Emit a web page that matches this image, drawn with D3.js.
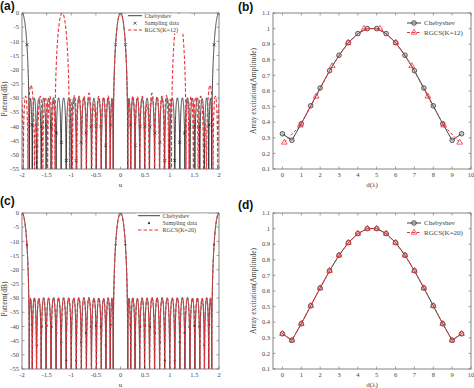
<!DOCTYPE html>
<html>
<head>
<meta charset="utf-8">
<script src="https://d3js.org/d3.v7.min.js"></script>
<style>
  body { margin: 0; background: #fff; }
  svg { display: block; }
  text { font-family: "Liberation Serif", "DejaVu Serif", serif; fill: #444; }
  .plab { font-family: "Liberation Sans", Arial, sans-serif; font-weight: bold; fill: #111; }
</style>
</head>
<body>
<svg id="svg" width="474" height="388"></svg>
<script>
// Chebyshev excitation (20 elements) (b)/(d)
const chebPos = [0, 0.5, 1, 1.5, 2, 2.5, 3, 3.5, 4, 4.5, 5, 5.5, 6, 6.5, 7, 7.5, 8, 8.5, 9, 9.5]
const chebAmp = [0.326, 0.284, 0.390, 0.505, 0.619, 0.730, 0.829, 0.910, 0.968, 1.0,
                 1.0, 0.968, 0.910, 0.829, 0.730, 0.619, 0.505, 0.390, 0.284, 0.326]

// RGCS(K=12) excitation
const rgcs12Pos = [0.10, 0.95, 1.79, 2.64, 3.48, 4.33, 5.17, 6.02, 6.86, 7.71, 8.55, 9.40]
const rgcs12Amp = [0.27, 0.38, 0.565, 0.76, 0.91, 1.0, 1.0, 0.91, 0.76, 0.565, 0.38, 0.27]

// RGCS(K=20) excitation
const rgcs20Pos = chebPos
const rgcs20Amp = chebAmp

// sampling points in u
const sampleU = [-2, -1.9, -1.8, -1.7, -1.6, -1.5, -1.4, -1.3, -1.2, -1.1, -1, -0.9, -0.8, -0.7,
                 -0.6, -0.5, -0.4, -0.3, -0.2, -0.1, 0, 0.1, 0.2, 0.3, 0.4, 0.5, 0.6, 0.7, 0.8,
                 0.9, 1, 1.1, 1.2, 1.3, 1.4, 1.5, 1.6, 1.7, 1.8, 1.9, 2]

const uTicks = [-2, -1.5, -1, -0.5, 0, 0.5, 1, 1.5, 2]
const dbTicks = [0, -5, -10, -15, -20, -25, -30, -35, -40, -45, -50, -55]
const dTicks = [0, 1, 2, 3, 4, 5, 6, 7, 8, 9, 10]
const ampTicks = [0.1, 0.2, 0.3, 0.4, 0.5, 0.6, 0.7, 0.8, 0.9, 1, 1.1]

const svg = d3.select('#svg')
const RED = '#e8333a', DARK = '#2b2b2b'

function af(pos, amp, u) {
  let re = 0, im = 0
  for (let i = 0; i < pos.length; i++) {
    let ph = 2 * Math.PI * pos[i] * u
    re += amp[i] * Math.cos(ph)
    im += amp[i] * Math.sin(ph)
  }
  return Math.sqrt(re * re + im * im)
}
function toDb(pos, amp, us) {
  let peak = d3.sum(amp)
  return us.map(u => {
    let v = 20 * Math.log10(af(pos, amp, u) / peak)
    return [u, Math.max(v, -120)]
  })
}

const grid = d3.range(-2, 2.00001, 0.0008)

function frame(g, x, y, xt, yt, xfmt, yfmt) {
  let [x0, x1] = x.range(), [y1, y0] = y.range()
  g.append('rect').attr('x', x0).attr('y', y0).attr('width', x1 - x0).attr('height', y1 - y0)
    .attr('fill', 'none').attr('stroke', '#666').attr('stroke-width', 0.8)
  xt.forEach(t => {
    g.append('line').attr('x1', x(t)).attr('x2', x(t)).attr('y1', y1).attr('y2', y1 - 2.5)
      .attr('stroke', '#666').attr('stroke-width', 0.6)
    g.append('line').attr('x1', x(t)).attr('x2', x(t)).attr('y1', y0).attr('y2', y0 + 2.5)
      .attr('stroke', '#666').attr('stroke-width', 0.6)
    g.append('text').attr('x', x(t)).attr('y', y1 + 8).attr('text-anchor', 'middle')
      .attr('font-size', 6.5).text(xfmt(t))
  })
  yt.forEach(t => {
    g.append('line').attr('x1', x0).attr('x2', x0 + 2.5).attr('y1', y(t)).attr('y2', y(t))
      .attr('stroke', '#666').attr('stroke-width', 0.6)
    g.append('line').attr('x1', x1).attr('x2', x1 - 2.5).attr('y1', y(t)).attr('y2', y(t))
      .attr('stroke', '#666').attr('stroke-width', 0.6)
    g.append('text').attr('x', x0 - 3).attr('y', y(t) + 2.2).attr('text-anchor', 'end')
      .attr('font-size', 6.5).text(yfmt(t))
  })
}

function patternPanel(key, left, right, top, bottom, rgPos, rgAmp, kLabel, marker, lx, lineLen) {
  let x = d3.scaleLinear().domain([-2, 2]).range([left, right])
  let y = d3.scaleLinear().domain([-55, 0]).range([bottom, top])
  let g = svg.append('g')
  g.append('clipPath').attr('id', 'clip' + key).append('rect')
    .attr('x', left).attr('y', top).attr('width', right - left).attr('height', bottom - top)
  let line = d3.line().x(d => x(d[0])).y(d => y(d[1]))
  let plot = g.append('g').attr('clip-path', 'url(#clip' + key + ')')

  let cheb = toDb(chebPos, chebAmp, grid)
  plot.append('path').attr('d', line(cheb)).attr('fill', 'none')
    .attr('stroke', DARK).attr('stroke-width', 0.9)

  let samples = toDb(chebPos, chebAmp, sampleU)
  let sg = plot.append('g')
  samples.forEach(d => {
    if (marker === 'x') {
      sg.append('path').attr('d', d3.symbol(d3.symbolTimes, 7)())
        .attr('transform', `translate(${x(d[0])},${y(d[1])})`)
        .attr('stroke', '#222').attr('stroke-width', 0.7).attr('fill', 'none')
    } else {
      sg.append('circle').attr('cx', x(d[0])).attr('cy', y(d[1])).attr('r', 1.1).attr('fill', '#333')
    }
  })

  let rg = toDb(rgPos, rgAmp, grid)
  plot.append('path').attr('d', line(rg)).attr('fill', 'none')
    .attr('stroke', RED).attr('stroke-width', 1.1).attr('stroke-dasharray', '3.5,2')

  frame(g, x, y, uTicks, dbTicks, d => d, d => d)

  g.append('text').attr('x', (left + right) / 2).attr('y', bottom + 18).attr('text-anchor', 'middle')
    .attr('font-size', 7).text('u')
  g.append('text').attr('transform', `translate(${left - 15},${(top + bottom) / 2 + 8}) rotate(-90)`)
    .attr('text-anchor', 'middle').attr('font-size', 7.5).text('Pattern(dB)')

  // legend
  let ly = [top + 2.7, top + 10.2, top + 17]
  let lg = g.append('g')
  lg.append('rect').attr('x', lx - 2).attr('y', top + 0.6).attr('width', lineLen + 50).attr('height', 20).attr('fill', '#fff')
  lg.append('line').attr('x1', lx).attr('x2', lx + lineLen).attr('y1', ly[0]).attr('y2', ly[0])
    .attr('stroke', DARK).attr('stroke-width', 0.9)
  lg.append('text').attr('x', lx + lineLen + 2.5).attr('y', ly[0] + 2).attr('font-size', 6).text('Chebyshev')
  if (marker === 'x') {
    lg.append('path').attr('d', d3.symbol(d3.symbolTimes, 7)())
      .attr('transform', `translate(${lx + lineLen / 2},${ly[1]})`).attr('stroke', '#222').attr('stroke-width', 0.7)
  } else {
    lg.append('circle').attr('cx', lx + lineLen / 2).attr('cy', ly[1]).attr('r', 1.1).attr('fill', '#333')
  }
  lg.append('text').attr('x', lx + lineLen + 2.5).attr('y', ly[1] + 2).attr('font-size', 6).text('Sampling data')
  lg.append('line').attr('x1', lx).attr('x2', lx + lineLen).attr('y1', ly[2]).attr('y2', ly[2])
    .attr('stroke', RED).attr('stroke-width', 1.1).attr('stroke-dasharray', '3.5,2')
  lg.append('text').attr('x', lx + lineLen + 2.5).attr('y', ly[2] + 2).attr('font-size', 6).text(kLabel)
}

function excitationPanel(key, left, right, top, bottom, rgPos, rgAmp, kLabel) {
  let x = d3.scaleLinear().domain([-0.5, 10]).range([left, right])
  let y = d3.scaleLinear().domain([0.1, 1.1]).range([bottom, top])
  let g = svg.append('g')
  let line = d3.line().x(d => x(d[0])).y(d => y(d[1]))
  let cheb = chebPos.map((p, i) => [p, chebAmp[i]])
  let rg = rgPos.map((p, i) => [p, rgAmp[i]])

  g.append('path').attr('d', line(cheb)).attr('fill', 'none').attr('stroke', DARK).attr('stroke-width', 0.9)
  g.selectAll('circle.c' + key).data(cheb).enter().append('circle')
    .attr('cx', d => x(d[0])).attr('cy', d => y(d[1])).attr('r', 2.3)
    .attr('fill', '#aaa').attr('fill-opacity', 0.5).attr('stroke', '#333').attr('stroke-width', 0.8)
  g.append('path').attr('d', line(rg)).attr('fill', 'none').attr('stroke', RED)
    .attr('stroke-width', 1).attr('stroke-dasharray', '3,1.8')
  let tri = d3.symbol(d3.symbolTriangle, 14)
  g.selectAll('path.t' + key).data(rg).enter().append('path')
    .attr('d', tri()).attr('transform', d => `translate(${x(d[0])},${y(d[1])})`)
    .attr('fill', 'none').attr('stroke', RED).attr('stroke-width', 0.8)

  frame(g, x, y, dTicks, ampTicks, d => d, d => d3.format('')(d))

  g.append('text').attr('x', (left + right) / 2).attr('y', bottom + 18).attr('text-anchor', 'middle')
    .attr('font-size', 7).text('d(λ)')
  g.append('text').attr('transform', `translate(${left - 17},${(top + bottom) / 2}) rotate(-90)`)
    .attr('text-anchor', 'middle').attr('font-size', 7.5).text('Array excitation(Amplitude)')

  let lx = left + 134, ly = top + 10
  g.append('line').attr('x1', lx).attr('x2', lx + 14).attr('y1', ly).attr('y2', ly)
    .attr('stroke', DARK).attr('stroke-width', 0.9)
  g.append('circle').attr('cx', lx + 7).attr('cy', ly).attr('r', 2.3)
    .attr('fill', '#aaa').attr('fill-opacity', 0.5).attr('stroke', '#333').attr('stroke-width', 0.8)
  g.append('text').attr('x', lx + 17).attr('y', ly + 2.3).attr('font-size', 7).text('Chebyshev')
  g.append('line').attr('x1', lx).attr('x2', lx + 14).attr('y1', ly + 9.5).attr('y2', ly + 9.5)
    .attr('stroke', RED).attr('stroke-width', 1).attr('stroke-dasharray', '3,1.8')
  g.append('path').attr('d', tri()).attr('transform', `translate(${lx + 7},${ly + 9.5})`)
    .attr('fill', 'none').attr('stroke', RED).attr('stroke-width', 0.8)
  g.append('text').attr('x', lx + 17).attr('y', ly + 11.8).attr('font-size', 7).text(kLabel)
}

patternPanel('a', 22, 219, 13, 169, rgcs12Pos, rgcs12Amp, 'RGCS(K=12)', 'x', 128, 14)
excitationPanel('b', 273, 471, 13, 169, rgcs12Pos, rgcs12Amp, 'RGCS(K=12)')
patternPanel('c', 22, 219, 213, 369, rgcs20Pos, rgcs20Amp, 'RGCS(K=20)', 'dot', 138, 22)
excitationPanel('d', 273, 471, 213, 369, rgcs20Pos, rgcs20Amp, 'RGCS(K=20)')

svg.append('text').attr('class', 'plab').attr('x', 0).attr('y', 10).attr('font-size', 12).text('(a)')
svg.append('text').attr('class', 'plab').attr('x', 238).attr('y', 11).attr('font-size', 12).text('(b)')
svg.append('text').attr('class', 'plab').attr('x', 0).attr('y', 205).attr('font-size', 12).text('(c)')
svg.append('text').attr('class', 'plab').attr('x', 238).attr('y', 209).attr('font-size', 12).text('(d)')
</script>
</body>
</html>
